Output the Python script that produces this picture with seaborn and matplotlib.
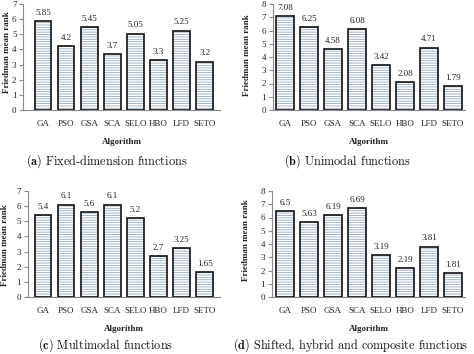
import matplotlib
matplotlib.use('Agg')
import matplotlib.pyplot as plt
import seaborn as sns

algorithms = ['GA', 'PSO', 'GSA', 'SCA', 'SELO', 'HBO', 'LFD', 'SETO']
rank_fixed = [5.85, 4.2, 5.45, 3.7, 5.05, 3.3, 5.25, 3.2]
rank_unimodal = [7.08, 6.25, 4.58, 6.08, 3.42, 2.08, 4.71, 1.79]
rank_multimodal = [5.4, 6.1, 5.6, 6.1, 5.2, 2.7, 3.25, 1.65]
rank_shifted = [6.5, 5.63, 6.19, 6.69, 3.19, 2.19, 3.81, 1.81]

captions = [r'$\mathbf{(a)}$ Fixed-dimension functions',
            r'$\mathbf{(b)}$ Unimodal functions',
            r'$\mathbf{(c)}$ Multimodal functions',
            r'$\mathbf{(d)}$ Shifted, hybrid and composite functions']

sns.set_theme(style='white')
plt.rcParams['font.family'] = ['Liberation Serif', 'DejaVu Serif']
plt.rcParams['mathtext.fontset'] = 'cm'
plt.rcParams['hatch.linewidth'] = 0.6

W, H = 474, 354
fig = plt.figure(figsize=(W / 100, H / 100), dpi=100)

# pixel layout: (left, right, bottom, top, xlim, ymax, ylabel xy, caption xy)
panels = [
    (rank_fixed, 23.4, 219.7, 110, 4, (-0.85, 7.65), 7, (7, 52), (107, 161)),
    (rank_unimodal, 273, 465, 110, 4, (-0.5, 7.5), 8, (247, 55), (347, 161)),
    (rank_multimodal, 28, 219.7, 297, 191, (-0.65, 7.65), 7, (5, 245), (106, 345)),
    (rank_shifted, 272, 465, 297, 191, (-0.54, 7.5), 8, (246, 240), (351, 345)),
]

stripe = '#93abc4'
axis_grey = '#8a8a8a'

for (vals, l, r, b, t, xlim, ymax, ylab, cap), caption in zip(panels, captions):
    ax = fig.add_axes([l / W, 1 - b / H, (r - l) / W, (b - t) / H])
    # hatched fill first, then black outline on top
    sns.barplot(x=algorithms, y=vals, ax=ax, color='white', edgecolor=stripe,
                linewidth=0, hatch='-' * 7, width=0.72, saturation=1)
    sns.barplot(x=algorithms, y=vals, ax=ax, fill=False, edgecolor='#111111',
                linewidth=1.2, width=0.72)
    ax.bar_label(ax.containers[0], labels=['{:g}'.format(v) for v in vals],
                 padding=3, fontsize=6.5, color='#222222')
    ax.set_xlim(*xlim)
    ax.set_ylim(0, ymax)
    ax.set_yticks(range(ymax + 1))
    for side in ['top', 'right']:
        ax.spines[side].set_visible(False)
    for side in ['left', 'bottom']:
        ax.spines[side].set_color(axis_grey)
        ax.spines[side].set_linewidth(0.8)
    ax.tick_params(axis='y', length=3, width=0.8, color=axis_grey, pad=2,
                   labelsize=6.5, labelcolor='#222222', left=True)
    ax.tick_params(axis='x', length=0, pad=7, labelsize=6.5, labelcolor='#222222')
    ax.set_xlabel('')
    ax.set_ylabel('')
    fig.text((l + r) / 2 / W, 1 - (b + 32) / H, 'Algorithm', fontsize=6.5,
             fontweight='bold', ha='center', va='center', color='#222222')
    fig.text(ylab[0] / W, 1 - ylab[1] / H, 'Friedman mean rank', fontsize=6.5,
             fontweight='bold', rotation=90, ha='center', va='center', color='#222222')
    fig.text(cap[0] / W, 1 - cap[1] / H, caption, fontsize=8.8, family='cmr10',
             ha='center', va='center', color='#111111')

plt.savefig('out.png', dpi=100)
